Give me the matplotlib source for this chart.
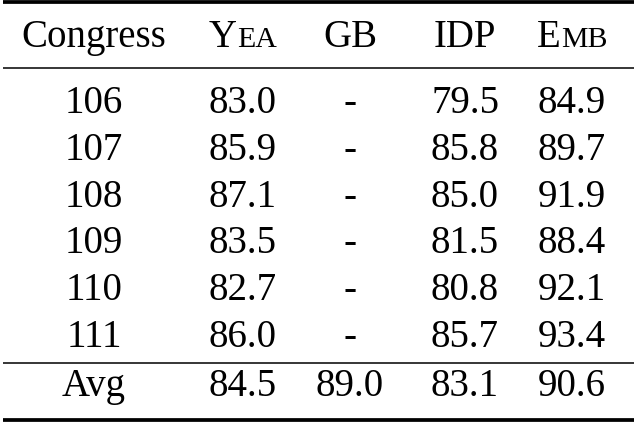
import matplotlib
matplotlib.use("Agg")
import matplotlib.pyplot as plt

plt.rcParams['font.family'] = ['Liberation Serif', 'DejaVu Serif']

# table content
congress = ["106", "107", "108", "109", "110", "111"]
yea = ["83.0", "85.9", "87.1", "83.5", "82.7", "86.0"]
gb = ["-", "-", "-", "-", "-", "-"]
idp = ["79.5", "85.8", "85.0", "81.5", "80.8", "85.7"]
emb = ["84.9", "89.7", "91.9", "88.4", "92.1", "93.4"]
avg_row = ["Avg", "84.5", "89.0", "83.1", "90.6"]
# header: (full size part, small caps part)
headers = [("Congress", ""), ("Y", "EA"), ("GB", ""), ("IDP", ""), ("E", "MB")]

W, H = 637, 422
fig = plt.figure(figsize=(W / 100, H / 100), dpi=100)
ax = fig.add_axes([0, 0, 1, 1])
ax.set_xlim(0, W)
ax.set_ylim(H, 0)
ax.axis('off')

fs = 28
fs_small = 21.5
col_x = [94, 243, 350, 465, 572]
header_y = 47
row_y = [113 + 46.8 * i for i in range(6)]
avg_y = 396

# booktabs-style rules
ax.plot([3, 634], [1.8, 1.8], color='black', lw=2.7, solid_capstyle='butt')
ax.plot([3, 634], [68, 68], color='black', lw=1.1, solid_capstyle='butt')
ax.plot([3, 634], [363, 363], color='black', lw=1.1, solid_capstyle='butt')
ax.plot([3, 634], [419.5, 419.5], color='black', lw=2.7, solid_capstyle='butt')

fig.canvas.draw()
renderer = fig.canvas.get_renderer()


def text_width(s, size):
    t = ax.text(0, 0, s, fontsize=size)
    w = t.get_window_extent(renderer).width
    t.remove()
    return w


for x, (big, small) in zip(col_x, headers):
    if not small:
        ax.text(x, header_y, big, fontsize=fs, ha='center', va='baseline')
    else:
        wb = text_width(big, fs)
        ws = text_width(small, fs_small)
        x0 = x - (wb + ws) / 2
        ax.text(x0, header_y, big, fontsize=fs, ha='left', va='baseline')
        ax.text(x0 + wb, header_y, small, fontsize=fs_small, ha='left', va='baseline')

columns = [congress, yea, gb, idp, emb]
for x, col in zip(col_x, columns):
    for y, val in zip(row_y, col):
        ax.text(x, y, val, fontsize=fs, ha='center', va='baseline')

for x, val in zip(col_x, avg_row):
    ax.text(x, avg_y, val, fontsize=fs, ha='center', va='baseline')

fig.savefig("out.png", dpi=100)
